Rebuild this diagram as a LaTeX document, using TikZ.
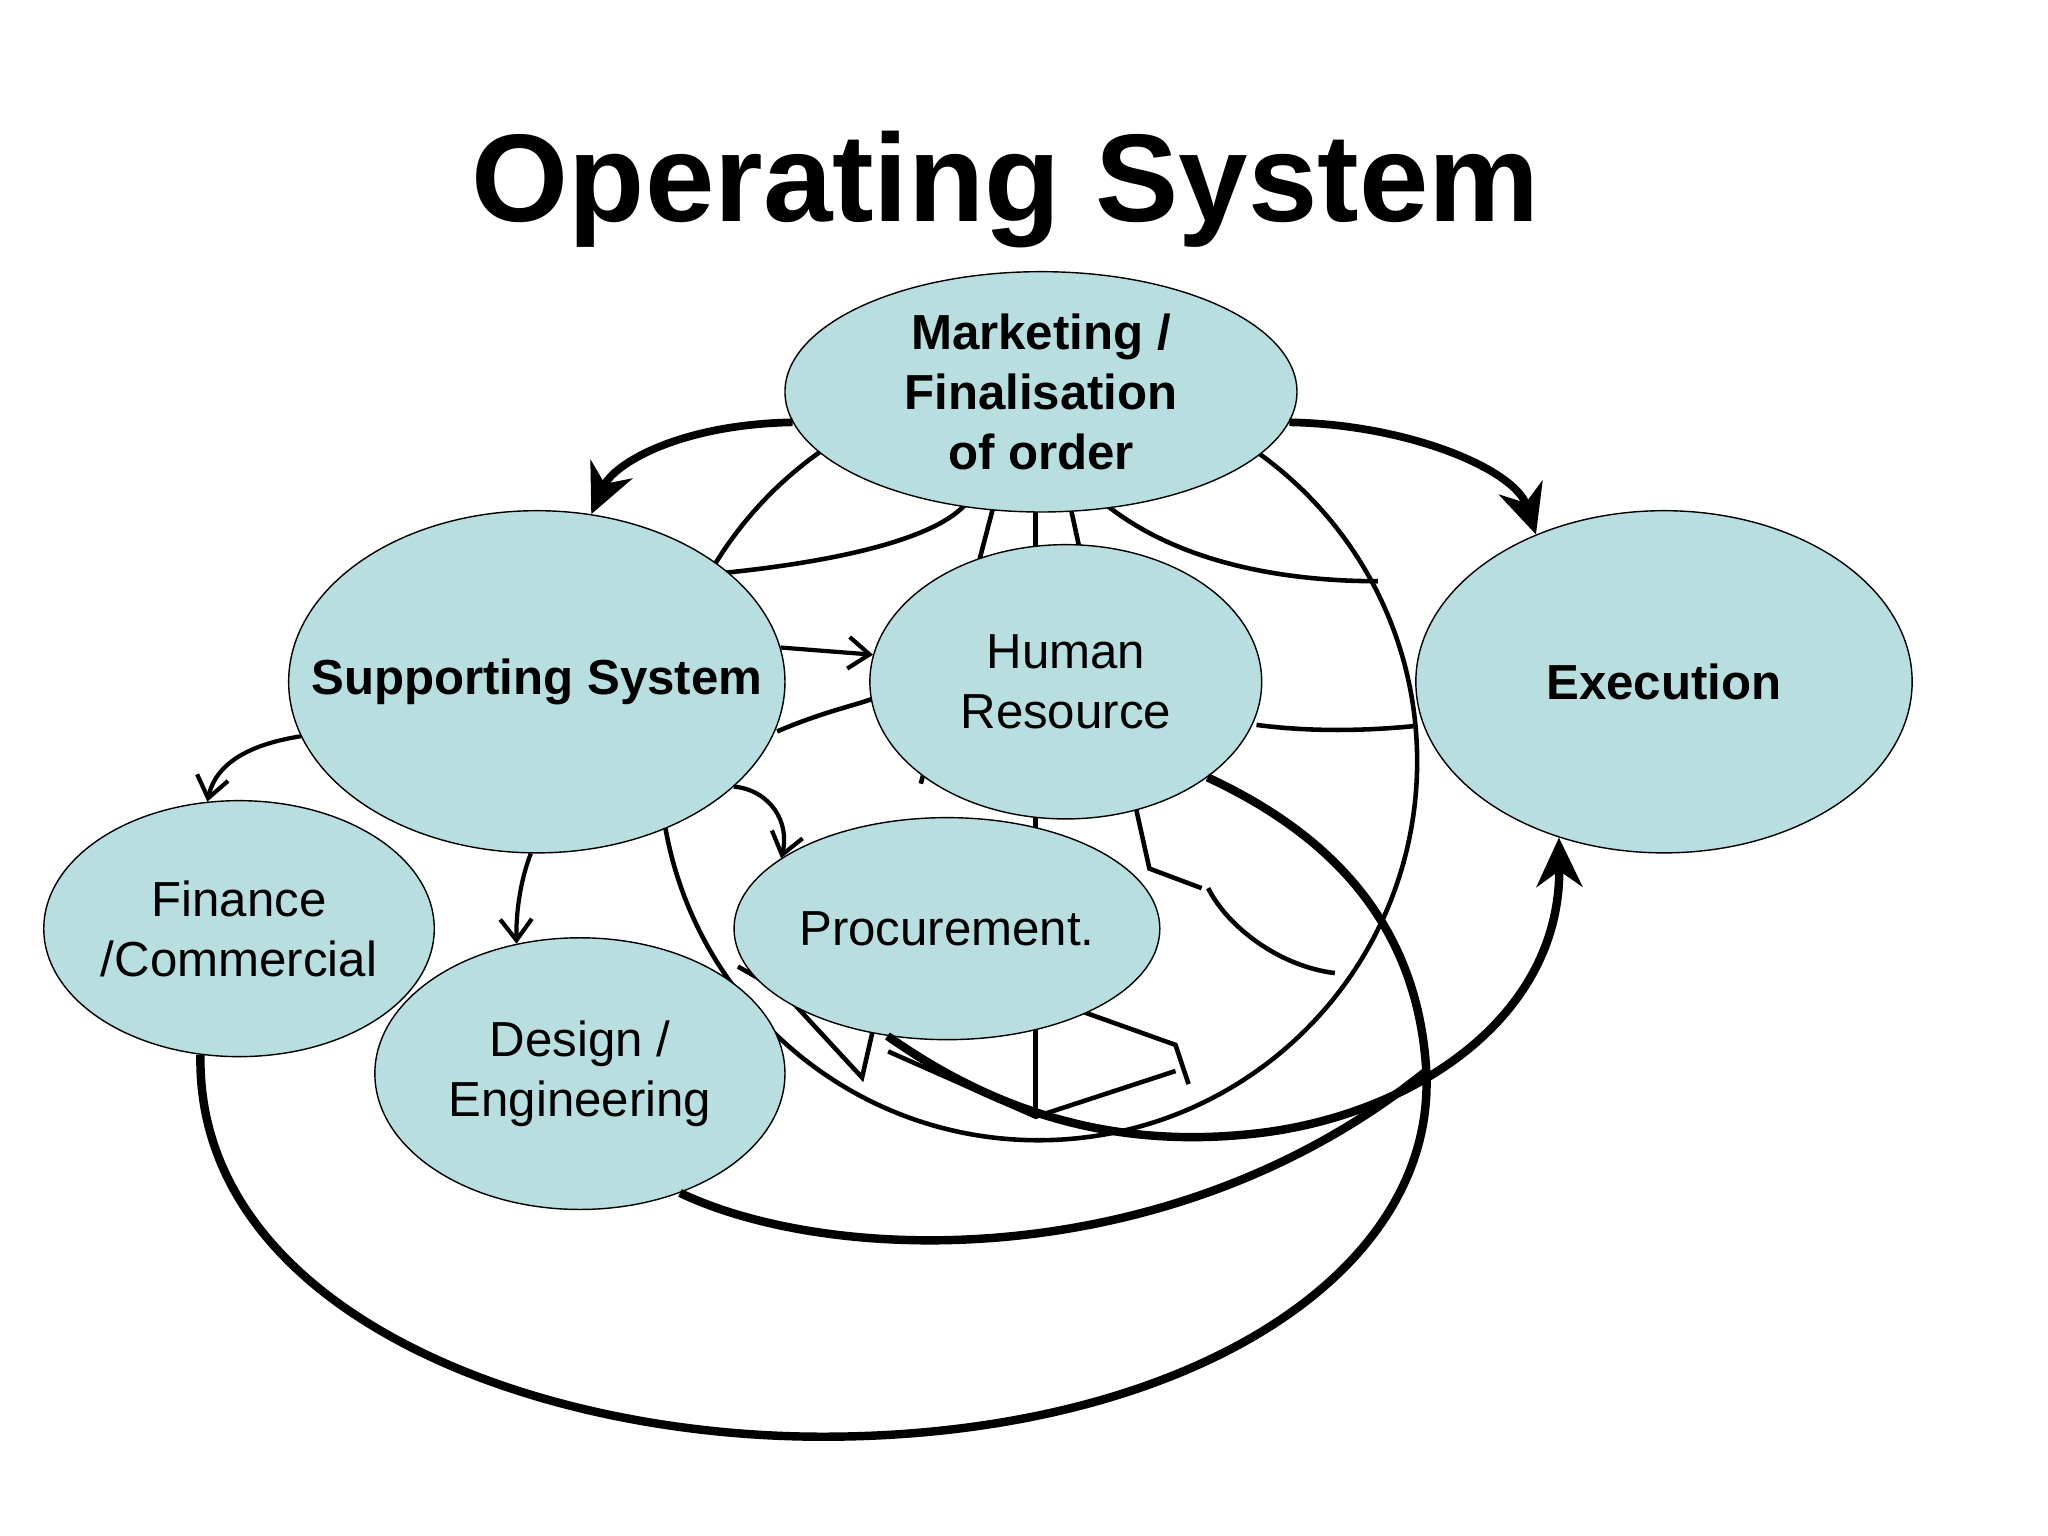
\documentclass[tikz,border=0pt]{standalone}
\usepackage{fontspec}
\setmainfont{Liberation Sans}
\usetikzlibrary{arrows.meta,shapes.geometric}
\definecolor{teal}{HTML}{B9DEE0}
\begin{document}
\begin{tikzpicture}[x=0.01306cm,y=-0.01306cm,
  blob/.style 2 args={ellipse, draw, fill=teal, inner sep=0pt, align=center,
    minimum width={#1*0.01306cm}, minimum height={#2*0.01306cm}, font=\fontsize{14}{17}\selectfont},
  bold/.style={font=\bfseries\fontsize{14}{17}\selectfont},
  big/.style={line width=2.2pt, -{Stealth[length=14pt,width=13pt]}},
  loop/.style={line width=2.4pt},
  small/.style={line width=1.2pt, -{Straight Barb[open,length=6pt,width=9pt]}},
  grid/.style={line width=1.3pt}]
\useasboundingbox (0,0) rectangle (1568,1176);
\node[font=\bfseries\fontsize{35.5}{40}\selectfont] (title) at (770,145) {Operating System};
% globe behind the nodes
\draw[grid] (795,583) circle (290);
\draw[grid] (793,390) -- (793,855);
\draw[grid] (760,390) -- (705,600);
\draw[grid] (820,390) -- (870,620) -- (880,665) -- (920,680);
\draw[grid] (540,440) .. controls (650,430) and (720,410) .. (740,385);
\draw[grid] (845,385) .. controls (900,430) and (980,445) .. (1055,445);
\draw[grid] (595,560) .. controls (630,545) and (655,540) .. (668,535);
\draw[grid] (962,555) .. controls (1000,560) and (1040,560) .. (1082,556);
\draw[grid] (925,680) .. controls (940,710) and (980,740) .. (1022,745);
\draw[grid] (565,740) -- (600,760) -- (660,825) -- (668,790);
\draw[grid] (830,775) -- (900,800) -- (910,830);
\draw[grid] (680,805) -- (793,855) -- (900,820);
% nodes
\node[blob={392}{184}, bold] (mkt) at (797,300) {Marketing /\\Finalisation\\ of order};
\node[blob={380}{262}, bold, inner xsep=-62pt] (sup) at (411,522) {Supporting System};
\node[blob={300}{210}] (hr) at (816,522) {Human\\Resource};
\node[blob={380}{262}, bold] (exe) at (1274,522) {Execution};
\node[blob={288}{196}] (fin) at (183,711) {Finance\\/Commercial};
\node[blob={314}{208}] (des) at (444,822) {Design /\\Engineering};
\node[blob={326}{170}] (pro) at (725,711) {Procurement.};
% connectors
\draw[big] (mkt.187) .. controls (520,325) and (470,355) .. (sup.72);
\draw[big] (mkt.353) .. controls (1080,325) and (1160,360) .. (exe.131);
\draw[small] (sup.8) -- (hr.172);
\draw[small] (sup.193) .. controls (190,570) and (165,585) .. (fin.104);
\draw[small] (sup.268) .. controls (398,675) and (395,700) .. (des.116);
\draw[small] (sup.332) .. controls (590,605) and (605,630) .. (pro.157);
\draw[loop] (fin.253) .. controls (150,1000) and (400,1100) .. (630,1100)
  .. controls (900,1100) and (1100,980) .. (1092,820)
  .. controls (1085,700) and (1010,635) .. (hr.326);
\draw[loop] (des.310) .. controls (640,970) and (900,975) .. (1092,820);
\draw[loop, -{Stealth[length=14pt,width=13pt]}] (pro.241) .. controls (760,850) and (850,880) .. (960,868)
  .. controls (1080,855) and (1195,780) .. (exe.236);
\end{tikzpicture}
\end{document}
